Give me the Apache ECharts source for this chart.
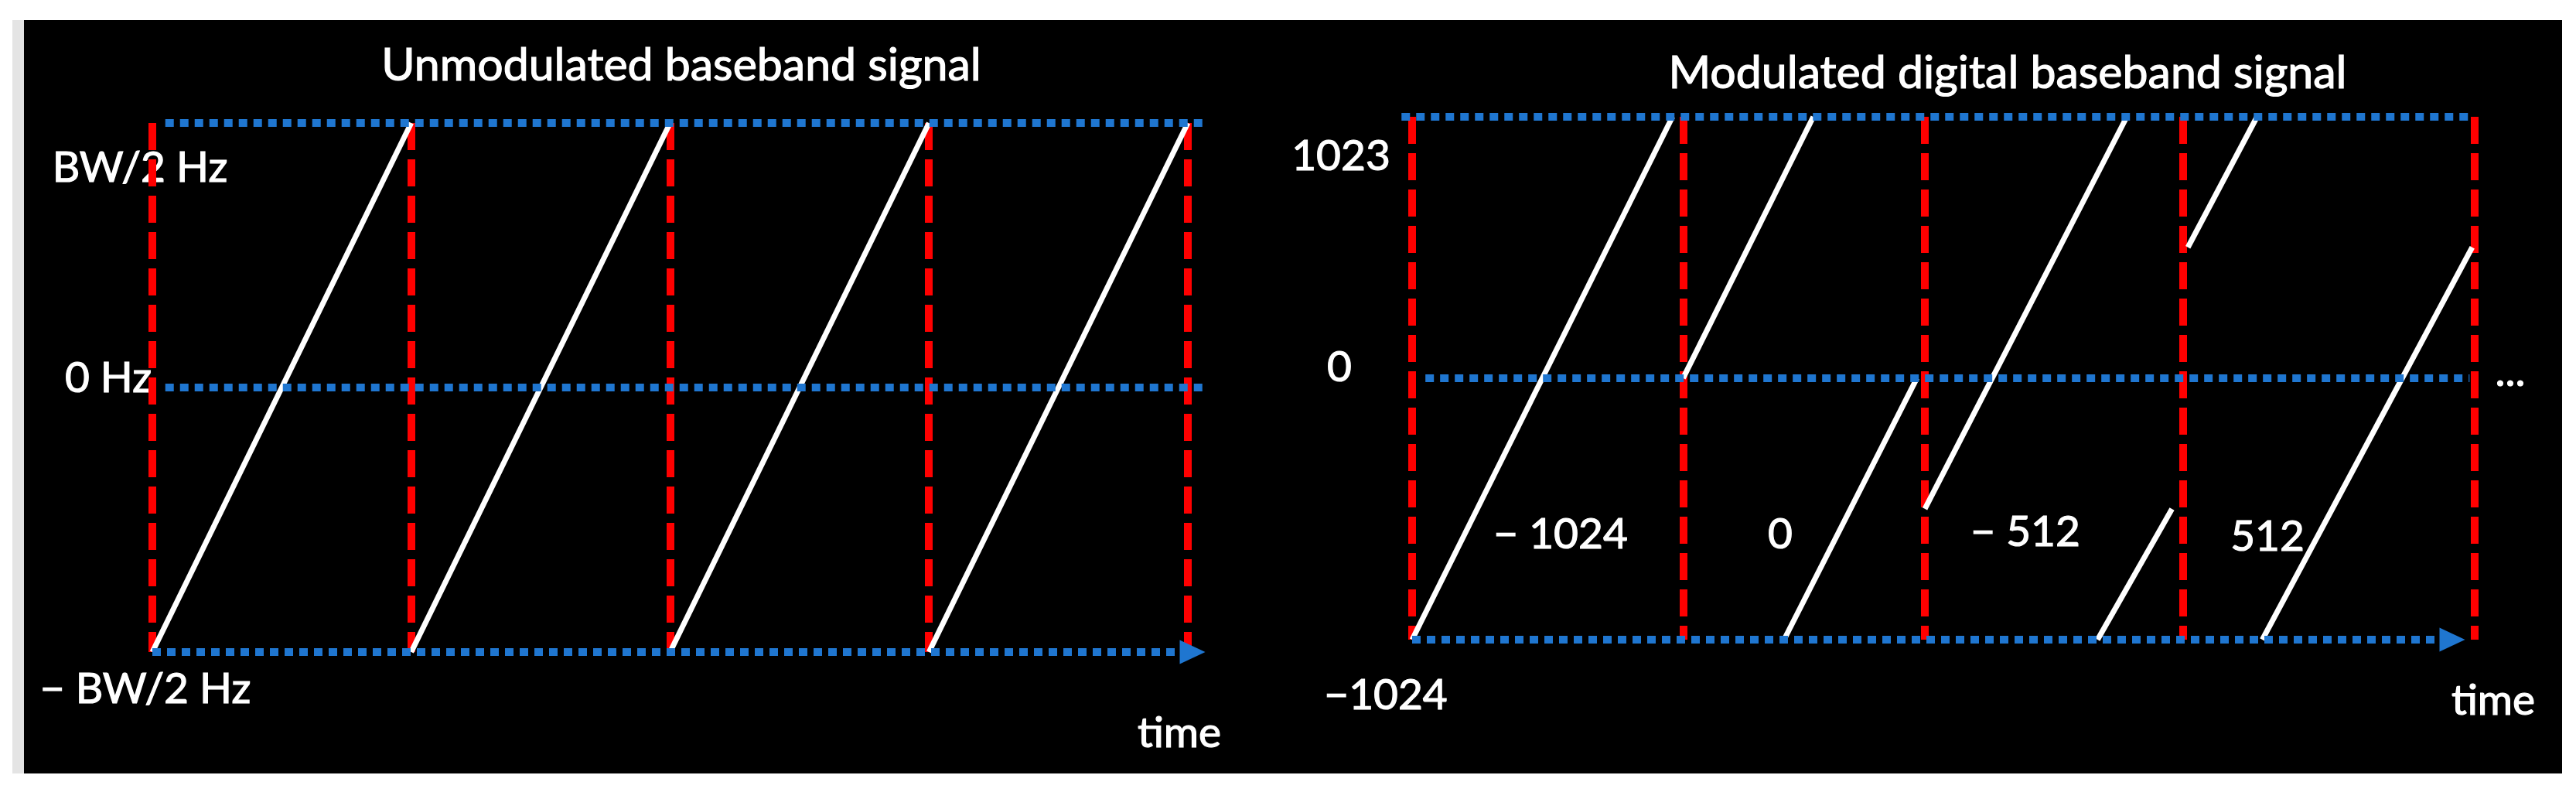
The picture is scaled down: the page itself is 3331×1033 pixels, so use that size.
<!DOCTYPE html>
<html>
<head>
<meta charset="utf-8">
<script src="https://cdn.jsdelivr.net/npm/echarts@6/dist/echarts.min.js"></script>
<style>
html,body{margin:0;padding:0;background:#fff;}
#c{width:3331px;height:1033px;}
</style>
</head>
<body>
<div id="c"></div>
<script>
// ---------- data ----------
// Left panel: unmodulated chirps, time in symbol periods, frequency in units of BW/2
const leftSymbolBounds = [0, 1, 2, 3, 4];
const leftChirps = [
  [[0, -1], [1, 1]],
  [[1, -1], [2, 1]],
  [[2, -1], [3, 1]],
  [[3, -1], [4, 1]]
];
const leftTickLabels = ['BW/2 Hz', '0 Hz', '\u2212 BW/2 Hz'];

// Right panel: modulated chirps (symbol values), frequency in FFT bins
const rightSymbolBounds = [0, 1.02, 1.93, 2.90, 4.00];
const rightSymbolValues = [-1024, 0, -512, 512];
const rightChirps = [
  [[0.00, -1024], [0.98, 1023]],
  [[1.02, 0], [1.51, 1023]],
  [[1.40, -1024], [1.90, 0]],
  [[1.93, -512], [2.69, 1023]],
  [[2.58, -1024], [2.86, -512]],
  [[2.92, 512], [3.18, 1023]],
  [[3.20, -1024], [3.99, 512]]
];
const rightTickLabels = ['1023', '0', '\u22121024'];
const fMinR = -1024, fMaxR = 1023;

// ---------- styling ----------
const BLUE = '#1F76D0';
const RED = '#FF0000';
const WHITE = '#FFFFFF';
const dotted = {color: BLUE, width: 10, type: [11, 8], cap: 'butt', opacity: 1};
const dashed = {color: RED, width: 10, type: [35, 12], cap: 'butt', opacity: 1};
const solid = {color: WHITE, width: 7, type: 'solid', opacity: 1};

function fmtVal(v) { return v < 0 ? '\u2212 ' + Math.abs(v) : String(v); }

function linesSeries(idx, data, style, z) {
  return {
    type: 'lines', coordinateSystem: 'cartesian2d',
    xAxisIndex: idx, yAxisIndex: idx,
    polyline: false, clip: false, silent: true, z: z,
    lineStyle: style,
    data: data.map(c => ({coords: c}))
  };
}

const leftRed = leftSymbolBounds.map(t => [[t, 1], [t, -1]]);
const rightRed = rightSymbolBounds.map(t => [[t, fMaxR], [t, fMinR]]);
const leftGuides = [[[0.05, 1], [4.06, 1]], [[0.05, 0], [4.06, 0]]];
const rightGuides = [[[-0.04, fMaxR], [3.98, fMaxR]], [[0.05, 0], [3.98, 0]]];

function txt(text, x, y, size) {
  return {type: 'text', x: x, y: y, z: 1,
    style: {text: text, fill: WHITE, stroke: WHITE, lineWidth: 1.2,
            font: size + 'px Lato', align: 'center', verticalAlign: 'middle',
            textAlign: 'center', textVerticalAlign: 'middle'}};
}

const innerLabelPos = [[2018, 691], [2302, 691], [2619, 688], [2932, 694]];

const graphics = [
  {type: 'rect', shape: {x: 16, y: 26, width: 15, height: 974}, style: {fill: '#e4e4e4'}, z: -10},
  {type: 'rect', shape: {x: 31, y: 26, width: 3282, height: 974}, style: {fill: '#000000'}, z: -10},
  txt('Unmodulated baseband signal', 881, 85, 59),
  txt('Modulated digital baseband signal', 2596, 95, 59),
  txt(leftTickLabels[0], 181, 217, 55),
  txt(leftTickLabels[1], 140, 489, 55),
  txt(leftTickLabels[2], 188, 891, 55),
  txt('time', 1525, 948, 55),
  txt(rightTickLabels[0], 1734, 202, 55),
  txt(rightTickLabels[1], 1732, 475, 55),
  txt(rightTickLabels[2], 1792, 899, 55),
  txt('time', 3224, 906, 55),
  txt('...', 3246, 481, 55)
].concat(rightSymbolValues.map((v, i) => txt(fmtVal(v), innerLabelPos[i][0], innerLabelPos[i][1], 55)));

function xAx(idx, max) {
  return {
    gridIndex: idx, type: 'value', min: 0, max: max, z: 10,
    axisLine: {show: true, onZero: false, symbol: ['none', 'triangle'], symbolSize: [31, 33], lineStyle: dotted},
    axisTick: {show: false}, axisLabel: {show: false}, splitLine: {show: false}
  };
}

const chart = echarts.init(document.getElementById('c'), null, {renderer: 'canvas'});
chart.setOption({
  backgroundColor: '#ffffff',
  animation: false,
  grid: [
    {left: 197, width: 1345, top: 159, height: 684},
    {left: 1826, width: 1345, top: 151, height: 676}
  ],
  xAxis: [xAx(0, 4.018), xAx(1, 3.915)],
  yAxis: [
    {gridIndex: 0, type: 'value', min: -1, max: 1, show: false, splitLine: {show: false}},
    {gridIndex: 1, type: 'value', min: fMinR, max: fMaxR, show: false, splitLine: {show: false}}
  ],
  graphic: {elements: graphics},
  series: [
    linesSeries(0, leftRed, dashed, 2),
    linesSeries(0, leftChirps, solid, 3),
    linesSeries(0, leftGuides, dotted, 5),
    linesSeries(1, rightRed, dashed, 2),
    linesSeries(1, rightChirps, solid, 3),
    linesSeries(1, rightGuides, dotted, 5)
  ]
});
</script>
</body>
</html>
